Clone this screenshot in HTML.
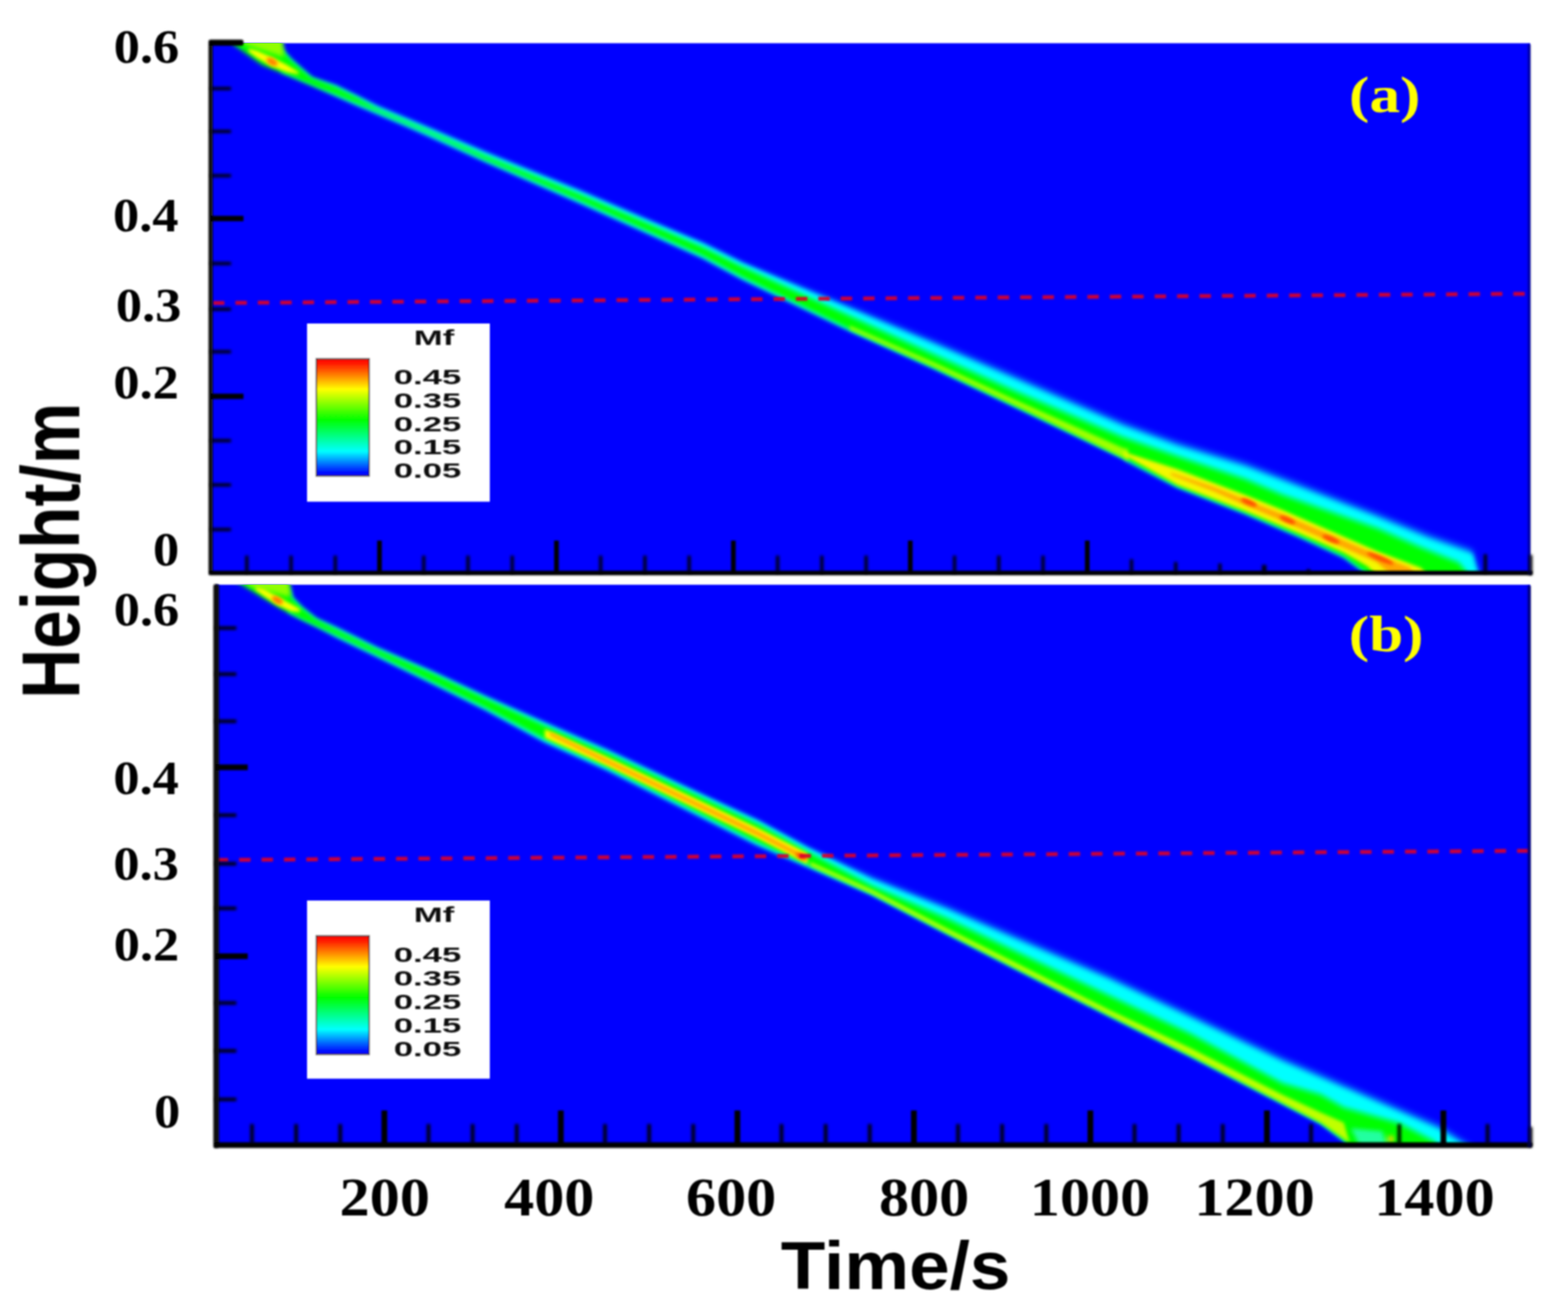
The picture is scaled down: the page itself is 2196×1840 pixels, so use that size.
<!DOCTYPE html>
<html lang="en"><head><meta charset="utf-8"><title>Mf contour: Height/m vs Time/s</title>
<style>
html,body{margin:0;padding:0;background:#fff;}
body{width:2196px;height:1840px;overflow:hidden;}
svg{display:block;}
.ser{font-family:"Liberation Serif","DejaVu Serif",serif;font-weight:bold;}
.san{font-family:"Liberation Sans","DejaVu Sans",sans-serif;font-weight:bold;}
</style></head><body>
<svg width="2196" height="1840" viewBox="0 0 2196 1840" role="img" aria-label="Mf contour plots (a) and (b): Height/m versus Time/s">
<defs>
<filter id="b1" filterUnits="userSpaceOnUse" x="0" y="0" width="2196" height="1840"><feGaussianBlur stdDeviation="1.1"/></filter>
<filter id="b15" filterUnits="userSpaceOnUse" x="0" y="0" width="2196" height="1840"><feGaussianBlur stdDeviation="1.5"/></filter>
<filter id="b2" filterUnits="userSpaceOnUse" x="0" y="0" width="2196" height="1840"><feGaussianBlur stdDeviation="2"/></filter>
<filter id="b25" filterUnits="userSpaceOnUse" x="0" y="0" width="2196" height="1840"><feGaussianBlur stdDeviation="2.5"/></filter>
<filter id="b3" filterUnits="userSpaceOnUse" x="0" y="0" width="2196" height="1840"><feGaussianBlur stdDeviation="3"/></filter>
<filter id="b4" filterUnits="userSpaceOnUse" x="0" y="0" width="2196" height="1840"><feGaussianBlur stdDeviation="4"/></filter>
<filter id="b5" filterUnits="userSpaceOnUse" x="0" y="0" width="2196" height="1840"><feGaussianBlur stdDeviation="5"/></filter>
<filter id="b6" filterUnits="userSpaceOnUse" x="0" y="0" width="2196" height="1840"><feGaussianBlur stdDeviation="6"/></filter>
<linearGradient id="cb" x1="0" y1="0" x2="0" y2="1"><stop offset="0" stop-color="#ff0000"/><stop offset="0.04" stop-color="#ff1a00"/><stop offset="0.26" stop-color="#ffff00"/><stop offset="0.52" stop-color="#00ff00"/><stop offset="0.79" stop-color="#00ffff"/><stop offset="0.97" stop-color="#0010ff"/><stop offset="1" stop-color="#0000ff"/></linearGradient>
<clipPath id="ca"><rect x="296" y="60.5" width="1847" height="740.5"/></clipPath>
<clipPath id="cbp"><rect x="302" y="818.8" width="1841" height="783.2"/></clipPath>
</defs>
<rect width="2196" height="1840" fill="#ffffff"/>
<g filter="url(#b1)">
<rect x="296" y="60.5" width="1847" height="742.5" fill="#0000ff"/>
<rect x="302" y="818.8" width="1841" height="785.2" fill="#0000ff"/>
</g>
<g clip-path="url(#ca)"><g filter="url(#b4)" opacity="0.55"><polygon points="900.0,311.0 984.0,342.0 1040.0,369.0 1192.0,430.0 1307.0,477.0 1420.0,525.0 1440.0,533.7 1572.0,591.0 1580.0,593.9 1649.0,619.0 1744.0,648.0 1796.0,667.8 1820.0,677.0 1882.0,700.9 1925.0,717.5 1929.0,719.0 1986.0,742.3 2000.0,748.0 2043.0,763.1 2062.0,769.8 2074.0,812.0 2074.0,812.0 2062.0,812.0 2043.0,800.5 2000.0,791.8 1986.0,789.0 1929.0,776.5 1925.0,775.8 1882.0,752.7 1820.0,727.5 1796.0,718.1 1744.0,696.0 1649.0,661.5 1580.0,631.4 1572.0,627.5 1440.0,567.8 1420.0,558.8 1307.0,506.5 1192.0,454.0 1040.0,382.0 984.0,353.0 900.0,311.0" fill="#00ffff" /></g><g filter="url(#b3)"><polygon points="394.0,54.5 395.0,62.5 396.0,70.5 405.0,80.2 407.0,82.4 408.0,83.5 421.0,95.1 422.0,96.0 436.0,108.1 437.0,109.0 443.0,111.1 470.0,119.5 500.0,134.0 528.0,148.0 566.0,164.0 604.0,180.0 680.0,212.8 812.0,266.5 984.0,340.5 1040.0,368.4 1192.0,433.2 1307.0,482.0 1420.0,531.0 1440.0,539.7 1572.0,597.1 1580.0,600.0 1649.0,625.2 1744.0,654.2 1796.0,674.1 1820.0,683.3 1882.0,707.2 1925.0,723.8 1929.0,725.4 1986.0,748.7 2000.0,754.4 2043.0,769.6 2062.0,776.3 2074.0,818.5 2074.0,811.5 2062.0,811.5 2043.0,811.5 2000.0,811.5 1986.0,811.5 1929.0,811.5 1925.0,811.5 1882.0,780.5 1820.0,752.0 1796.0,741.7 1744.0,719.5 1649.0,682.5 1580.0,646.5 1572.0,641.5 1440.0,578.5 1420.0,569.0 1307.0,515.5 1192.0,464.3 1040.0,391.5 984.0,361.5 812.0,284.5 680.0,226.7 604.0,192.5 566.0,175.5 528.0,159.5 500.0,147.5 470.0,134.0 443.0,121.2 437.0,118.5 436.0,118.1 422.0,112.2 421.0,111.7 408.0,106.3 407.0,105.8 405.0,105.0 396.0,101.4 395.0,101.0 394.0,100.6" fill="#00ffff" /></g><g filter="url(#b3)"><polygon points="1040.0,374.0 1192.0,442.2 1307.0,494.0 1420.0,545.0 1440.0,553.5 1572.0,609.9 1580.0,612.7 1649.0,636.9 1744.0,668.9 1796.0,690.9 1820.0,699.3 1882.0,721.2 1925.0,736.4 1929.0,737.8 1986.0,762.8 2000.0,768.4 2043.0,785.8 2062.0,808.8 2074.0,808.8 2074.0,813.5 2062.0,813.5 2043.0,790.5 2000.0,773.1 1986.0,767.5 1929.0,742.5 1925.0,741.1 1882.0,725.9 1820.0,704.0 1796.0,695.5 1744.0,673.5 1649.0,641.5 1580.0,617.3 1572.0,614.5 1440.0,558.1 1420.0,549.5 1307.0,498.5 1192.0,445.5 1040.0,375.5" fill="#00ff90" /></g><g filter="url(#b3)"><polygon points="393.0,52.0 395.0,69.0 407.0,83.0 421.0,95.5 436.0,108.5 470.0,121.5 500.0,136.5 528.0,152.0 604.0,184.5 680.0,218.0 812.0,272.0 984.0,346.0 1040.0,374.0 1192.0,444.0 1307.0,497.0 1420.0,548.0 1572.0,613.0 1649.0,640.0 1744.0,672.0 1796.0,694.0 1929.0,741.0 1986.0,766.0 2043.0,789.0 2062.0,812.0 1927.0,812.0 1882.0,779.0 1820.0,750.5 1744.0,718.0 1649.0,681.0 1580.0,645.0 1572.0,640.0 1440.0,577.0 1307.0,514.0 1192.0,462.0 1040.0,388.0 984.0,358.0 812.0,281.0 680.0,224.0 604.0,188.5 528.0,156.5 500.0,145.0 470.0,132.5 444.0,122.5 406.0,106.5 367.0,91.0 329.0,64.0 319.0,52.0" fill="#00ff00" /></g><g filter="url(#b3)"><polygon points="330.0,52.0 394.0,52.0 397.0,70.0 397.0,80.0 345.0,63.0 330.0,52.0" fill="#90ff00" /></g><g filter="url(#b25)"><polygon points="348.0,68.0 360.0,71.0 381.0,80.0 402.0,91.0 418.0,101.0 418.0,104.0 402.0,101.0 381.0,93.0 360.0,81.0 348.0,72.0" fill="#ffff00" /><polygon points="1190.0,456.0 1307.0,507.0 1420.0,559.0 1572.0,627.0 1580.0,629.0 1580.0,646.0 1572.0,640.0 1440.0,576.0 1307.0,513.0 1190.0,461.0" fill="#a0ff00" /><polygon points="1574.0,633.0 1649.0,657.0 1744.0,693.0 1796.0,714.0 1929.0,772.0 1990.0,795.0 2005.0,812.0 1935.0,812.0 1915.0,793.0 1882.0,774.0 1820.0,747.0 1744.0,715.5 1649.0,679.0 1574.0,637.0" fill="#f4f800" /></g><g filter="url(#b25)"><polygon points="1640.0,662.0 1700.0,682.0 1744.0,699.5 1796.0,720.0 1929.0,777.0 1975.0,795.0 1985.0,812.0 1955.0,812.0 1929.0,787.5 1796.0,729.5 1744.0,707.5 1700.0,688.0 1640.0,665.0" fill="#ffa800" /><ellipse cx="381" cy="86.5" rx="8.5" ry="4.5" transform="rotate(30 381 86.5)" fill="#ff8000"/></g><g filter="url(#b2)"><ellipse cx="1749" cy="703.5" rx="12" ry="3.6" transform="rotate(23 1749 703.5)" fill="#ff5000"/><ellipse cx="1803" cy="728" rx="12" ry="3.6" transform="rotate(23 1803 728)" fill="#ff5000"/><ellipse cx="1864" cy="755" rx="13" ry="3.6" transform="rotate(23 1864 755)" fill="#ff5000"/><ellipse cx="1933" cy="782" rx="20" ry="3.6" transform="rotate(23 1933 782)" fill="#ff5000"/></g></g>
<g clip-path="url(#cbp)"><g filter="url(#b4)" opacity="0.55"><polygon points="900.0,1082.2 1060.0,1150.0 1131.0,1188.0 1221.0,1228.0 1326.0,1269.0 1420.0,1309.0 1553.0,1366.0 1668.0,1420.0 1796.0,1481.0 1850.0,1504.1 1882.0,1517.9 1890.0,1521.3 1929.0,1538.0 1960.0,1551.4 2010.0,1573.1 2015.0,1575.3 2072.0,1612.0 2072.0,1612.0 2015.0,1612.0 2010.0,1606.0 1960.0,1593.0 1929.0,1588.6 1890.0,1583.1 1882.0,1575.0 1850.0,1554.0 1796.0,1532.0 1668.0,1464.5 1553.0,1409.0 1420.0,1344.0 1326.0,1297.5 1221.0,1247.0 1131.0,1203.0 1060.0,1167.5 900.0,1082.2" fill="#00ffff" /></g><g filter="url(#b3)"><polygon points="404.0,812.5 405.0,818.5 406.0,824.5 409.0,834.2 410.0,837.5 423.0,850.5 424.0,851.5 442.0,865.6 443.0,866.3 462.0,874.5 471.0,878.5 528.0,906.5 604.0,939.5 680.0,974.8 763.0,1011.5 850.0,1049.5 1060.0,1148.5 1131.0,1186.9 1221.0,1231.6 1326.0,1274.1 1420.0,1315.0 1553.0,1372.1 1668.0,1426.2 1796.0,1487.3 1850.0,1510.5 1882.0,1524.2 1890.0,1527.6 1929.0,1544.4 1960.0,1557.8 2010.0,1579.6 2015.0,1581.7 2072.0,1618.5 2072.0,1611.5 2015.0,1611.5 2010.0,1611.5 1960.0,1611.5 1929.0,1611.5 1890.0,1611.5 1882.0,1597.5 1850.0,1573.5 1796.0,1545.5 1668.0,1479.5 1553.0,1422.5 1420.0,1355.5 1326.0,1307.5 1221.0,1252.9 1131.0,1214.1 1060.0,1183.5 850.0,1078.5 763.0,1039.5 680.0,994.2 604.0,956.5 528.0,919.5 471.0,891.9 462.0,887.0 443.0,876.7 442.0,876.2 424.0,867.5 423.0,867.0 410.0,860.3 409.0,859.7 406.0,858.2 405.0,857.7 404.0,857.2" fill="#00ffff" /></g><g filter="url(#b3)"><polygon points="1060.0,1152.8 1131.0,1192.0 1221.0,1238.9 1326.0,1284.0 1420.0,1329.0 1553.0,1391.9 1668.0,1445.9 1796.0,1514.9 1850.0,1530.8 1882.0,1548.8 1890.0,1551.1 1929.0,1562.1 1960.0,1570.8 2010.0,1596.8 2015.0,1608.8 2072.0,1608.8 2072.0,1613.5 2015.0,1613.5 2010.0,1601.5 1960.0,1575.5 1929.0,1566.8 1890.0,1555.8 1882.0,1553.5 1850.0,1535.5 1796.0,1519.5 1668.0,1450.5 1553.0,1396.5 1420.0,1333.5 1326.0,1288.5 1221.0,1242.5 1131.0,1194.5 1060.0,1154.5" fill="#00ff90" /></g><g filter="url(#b3)"><polygon points="403.0,810.0 405.0,823.0 409.0,837.0 423.0,851.0 442.0,866.5 471.0,881.0 528.0,909.0 604.0,942.0 680.0,978.0 763.0,1016.0 850.0,1054.0 1060.0,1153.0 1131.0,1193.0 1221.0,1241.0 1326.0,1287.0 1420.0,1332.0 1553.0,1395.0 1668.0,1449.0 1796.0,1518.0 1850.0,1534.0 1882.0,1552.0 1960.0,1574.0 2010.0,1600.0 2015.0,1612.0 1890.0,1612.0 1882.0,1596.0 1850.0,1572.0 1796.0,1544.0 1668.0,1478.0 1553.0,1421.0 1420.0,1354.0 1326.0,1306.0 1221.0,1251.0 1131.0,1211.0 1060.0,1179.0 850.0,1074.0 763.0,1035.0 680.0,991.0 604.0,954.0 528.0,917.0 462.0,885.5 425.0,868.5 396.0,854.0 368.0,837.0 337.0,818.0 323.0,810.0" fill="#00ff00" /></g><g filter="url(#b3)"><polygon points="338.0,810.0 403.0,810.0 406.0,826.0 406.0,836.0 352.0,822.0 338.0,810.0" fill="#90ff00" /></g><g filter="url(#b25)"><polygon points="358.0,822.0 370.0,825.0 390.0,836.0 408.0,846.0 420.0,853.0 420.0,857.0 408.0,856.0 390.0,848.0 370.0,835.0 358.0,826.0" fill="#ffff00" /><polygon points="763.0,1021.0 850.0,1060.0 1060.0,1159.0 1131.0,1195.0 1131.0,1210.0 1060.0,1173.0 850.0,1072.0 763.0,1033.0" fill="#ffff00" /><polygon points="1135.0,1207.0 1221.0,1246.0 1326.0,1300.0 1420.0,1347.0 1553.0,1414.0 1668.0,1468.0 1796.0,1533.0 1850.0,1558.0 1882.0,1572.0 1890.0,1600.0 1850.0,1572.0 1796.0,1544.0 1668.0,1478.0 1553.0,1421.0 1420.0,1354.0 1326.0,1306.0 1221.0,1251.0 1135.0,1212.0" fill="#c0ff00" /></g><g filter="url(#b25)"><polygon points="770.0,1025.0 850.0,1063.0 1060.0,1163.0 1128.0,1198.0 1128.0,1205.0 1060.0,1170.0 850.0,1069.0 770.0,1030.0" fill="#ffa800" /><ellipse cx="388.5" cy="840.5" rx="8.5" ry="4.5" transform="rotate(30 388.5 840.5)" fill="#ff8000"/><ellipse cx="1122" cy="1199" rx="9" ry="4" transform="rotate(26 1122 1199)" fill="#ff4000"/></g><g filter="url(#b3)"><polygon points="1892.0,1580.0 1936.0,1584.0 1942.0,1604.0 1904.0,1604.0" fill="#20ffa0" /><ellipse cx="1948" cy="1595" rx="4" ry="5" fill="#ffd000"/></g></g>
<g filter="url(#b15)">
<line x1="298.3" y1="424.3" x2="2148.3" y2="411.3" stroke="#d8002c" stroke-opacity="0.94" stroke-width="5.5" stroke-dasharray="16 15.4"/>
<line x1="303.5" y1="1204.3" x2="2152.5" y2="1191.3" stroke="#d8002c" stroke-opacity="0.94" stroke-width="5.5" stroke-dasharray="16 15.4"/>
</g>
<g filter="url(#b1)"><rect x="430" y="453" width="256" height="249.5" fill="#ffffff"/><rect x="443" y="502.5" width="74" height="164" fill="url(#cb)" stroke="#302020" stroke-opacity="0.8" stroke-width="2.2"/></g><g class="san" filter="url(#b1)" fill="#111"><text transform="translate(579.5,482.5) scale(1.62,1)" font-size="30">Mf</text><text transform="translate(551.5,538) scale(1.62,1)" font-size="30">0.45</text><text transform="translate(551.5,570.8) scale(1.62,1)" font-size="30">0.35</text><text transform="translate(551.5,603.6) scale(1.62,1)" font-size="30">0.25</text><text transform="translate(551.5,636.4) scale(1.62,1)" font-size="30">0.15</text><text transform="translate(551.5,669.2) scale(1.62,1)" font-size="30">0.05</text></g>
<g filter="url(#b1)"><rect x="430" y="1261" width="256" height="249.5" fill="#ffffff"/><rect x="443" y="1310.5" width="74" height="166" fill="url(#cb)" stroke="#302020" stroke-opacity="0.8" stroke-width="2.2"/></g><g class="san" filter="url(#b1)" fill="#111"><text transform="translate(579.5,1291.1) scale(1.62,1)" font-size="30">Mf</text><text transform="translate(551.5,1347.2) scale(1.62,1)" font-size="30">0.45</text><text transform="translate(551.5,1380.2) scale(1.62,1)" font-size="30">0.35</text><text transform="translate(551.5,1413.2) scale(1.62,1)" font-size="30">0.25</text><text transform="translate(551.5,1446.2) scale(1.62,1)" font-size="30">0.15</text><text transform="translate(551.5,1479.2) scale(1.62,1)" font-size="30">0.05</text></g>
<g filter="url(#b2)" fill="#000"><rect x="295" y="121.9" width="28.5" height="4.2"/><rect x="295" y="181.9" width="28.5" height="4.2"/><rect x="295" y="243.9" width="28.5" height="4.2"/><rect x="295" y="366.9" width="28.5" height="4.2"/><rect x="295" y="430.9" width="28.5" height="4.2"/><rect x="295" y="490.4" width="28.5" height="4.2"/><rect x="295" y="614.9" width="28.5" height="4.2"/><rect x="295" y="676.9" width="28.5" height="4.2"/><rect x="295" y="739.4" width="28.5" height="4.2"/><rect x="302" y="877.2" width="29" height="4.6"/><rect x="302" y="941.7" width="29" height="4.6"/><rect x="302" y="1007.7" width="29" height="4.6"/><rect x="302" y="1139.2" width="29" height="4.6"/><rect x="302" y="1207.2" width="29" height="4.6"/><rect x="302" y="1269.7" width="29" height="4.6"/><rect x="302" y="1402.2" width="29" height="4.6"/><rect x="302" y="1469.2" width="29" height="4.6"/><rect x="302" y="1537.2" width="29" height="4.6"/><rect x="343.55" y="778" width="4.2" height="24"/><rect x="350.5" y="1574" width="4.8" height="28"/><rect x="405.5" y="778" width="4.2" height="24"/><rect x="412.3" y="1574" width="4.8" height="28"/><rect x="467.45" y="778" width="4.2" height="24"/><rect x="474.1" y="1574" width="4.8" height="28"/><rect x="591.35" y="778" width="4.2" height="24"/><rect x="597.7" y="1574" width="4.8" height="28"/><rect x="653.3" y="778" width="4.2" height="24"/><rect x="659.5" y="1574" width="4.8" height="28"/><rect x="715.25" y="778" width="4.2" height="24"/><rect x="721.3" y="1574" width="4.8" height="28"/><rect x="839.15" y="778" width="4.2" height="24"/><rect x="844.9" y="1574" width="4.8" height="28"/><rect x="901.1" y="778" width="4.2" height="24"/><rect x="906.7" y="1574" width="4.8" height="28"/><rect x="963.05" y="778" width="4.2" height="24"/><rect x="968.5" y="1574" width="4.8" height="28"/><rect x="1086.95" y="778" width="4.2" height="24"/><rect x="1092.1" y="1574" width="4.8" height="28"/><rect x="1148.9" y="778" width="4.2" height="24"/><rect x="1153.9" y="1574" width="4.8" height="28"/><rect x="1210.85" y="778" width="4.2" height="24"/><rect x="1215.7" y="1574" width="4.8" height="28"/><rect x="1334.75" y="778" width="4.2" height="24"/><rect x="1339.3" y="1574" width="4.8" height="28"/><rect x="1396.7" y="778" width="4.2" height="24"/><rect x="1401.1" y="1574" width="4.8" height="28"/><rect x="1458.65" y="778" width="4.2" height="24"/><rect x="1462.9" y="1574" width="4.8" height="28"/><rect x="1582.55" y="783" width="4.2" height="19"/><rect x="1586.5" y="1574" width="4.8" height="28"/><rect x="1644.5" y="787" width="4.2" height="15"/><rect x="1648.3" y="1574" width="4.8" height="28"/><rect x="1706.45" y="789" width="4.2" height="13"/><rect x="1710.1" y="1574" width="4.8" height="28"/><rect x="1767.5" y="791" width="6" height="11"/><rect x="1830.35" y="797" width="4.2" height="5"/><rect x="1833.7" y="1574" width="4.8" height="28"/><rect x="1957.3" y="1574" width="4.8" height="28"/><rect x="2078" y="776" width="4.5" height="26"/><rect x="2080.9" y="1574" width="4.8" height="28"/><rect x="2141.5" y="777" width="4.5" height="28"/><rect x="2141.5" y="1578" width="4.5" height="28"/></g>
<g filter="url(#b15)" fill="#000"><rect x="292" y="57" width="6" height="748" rx="3" fill="#101010"/><rect x="292" y="799.3" width="1854" height="6.2" rx="2"/><rect x="2139.5" y="62" width="4.5" height="742" fill="#000050" opacity="0.5"/><rect x="298.8" y="818" width="8" height="790" rx="3" fill="#0c0c0c"/><rect x="299" y="1599.5" width="1847" height="8" rx="3"/><rect x="2139.5" y="820" width="4.5" height="786" fill="#000050" opacity="0.75"/><rect x="292" y="55.5" width="49" height="8.5" rx="3"/><rect x="295" y="302.25" width="46" height="7.5"/><rect x="295" y="551.25" width="46" height="7.5"/><rect x="302" y="1070.5" width="45" height="8"/><rect x="302" y="1335" width="45" height="8"/><rect x="528.25" y="757" width="6.5" height="45"/><rect x="534.3" y="1555" width="8" height="47"/><rect x="776.05" y="757" width="6.5" height="45"/><rect x="781.5" y="1555" width="8" height="47"/><rect x="1023.85" y="757" width="6.5" height="45"/><rect x="1028.7" y="1555" width="8" height="47"/><rect x="1271.65" y="757" width="6.5" height="45"/><rect x="1275.9" y="1555" width="8" height="47"/><rect x="1519.45" y="757" width="6.5" height="45"/><rect x="1523.1" y="1555" width="8" height="47"/><rect x="1770.3" y="1555" width="8" height="47"/><rect x="2017.5" y="1555" width="8" height="47"/></g>
<g class="ser" filter="url(#b1)" fill="#000" font-size="68">
<text transform="translate(251,88) scale(1.08,1)" text-anchor="end">0.6</text>
<text transform="translate(250,324) scale(1.08,1)" text-anchor="end">0.4</text>
<text transform="translate(254,450) scale(1.08,1)" text-anchor="end">0.3</text>
<text transform="translate(250.5,558) scale(1.08,1)" text-anchor="end">0.2</text>
<text transform="translate(251,792) scale(1.08,1)" text-anchor="end">0</text>
<text transform="translate(251,876) scale(1.08,1)" text-anchor="end">0.6</text>
<text transform="translate(250.5,1111.5) scale(1.08,1)" text-anchor="end">0.4</text>
<text transform="translate(250.5,1231.5) scale(1.08,1)" text-anchor="end">0.3</text>
<text transform="translate(251,1344.5) scale(1.08,1)" text-anchor="end">0.2</text>
<text transform="translate(252.5,1578.5) scale(1.08,1)" text-anchor="end">0</text>
</g>
<g class="ser" filter="url(#b1)" fill="#000" font-size="77">
<text transform="translate(538.8,1702.3) scale(1.095,1)" text-anchor="middle">200</text>
<text transform="translate(769.2,1702.3) scale(1.095,1)" text-anchor="middle">400</text>
<text transform="translate(1024,1702.3) scale(1.095,1)" text-anchor="middle">600</text>
<text transform="translate(1294.2,1702.3) scale(1.095,1)" text-anchor="middle">800</text>
<text transform="translate(1526.6,1702.3) scale(1.095,1)" text-anchor="middle">1000</text>
<text transform="translate(1757,1702.3) scale(1.095,1)" text-anchor="middle">1200</text>
<text transform="translate(2009,1702.3) scale(1.095,1)" text-anchor="middle">1400</text>
</g>
<g class="ser" filter="url(#b1)" fill="#ffff00" font-size="72">
<text transform="translate(1939.3,157) scale(1.19,1)" text-anchor="middle">(a)</text>
<text transform="translate(1941.3,911.5) scale(1.19,1)" text-anchor="middle">(b)</text>
</g>
<g class="san" filter="url(#b1)" fill="#000">
<text transform="translate(1093.5,1805) scale(1.075,1)" font-size="95">Time/s</text>
<text transform="translate(111,978.5) rotate(-90) scale(0.843,1)" font-size="115">Height/m</text>
</g>
</svg>
</body></html>
